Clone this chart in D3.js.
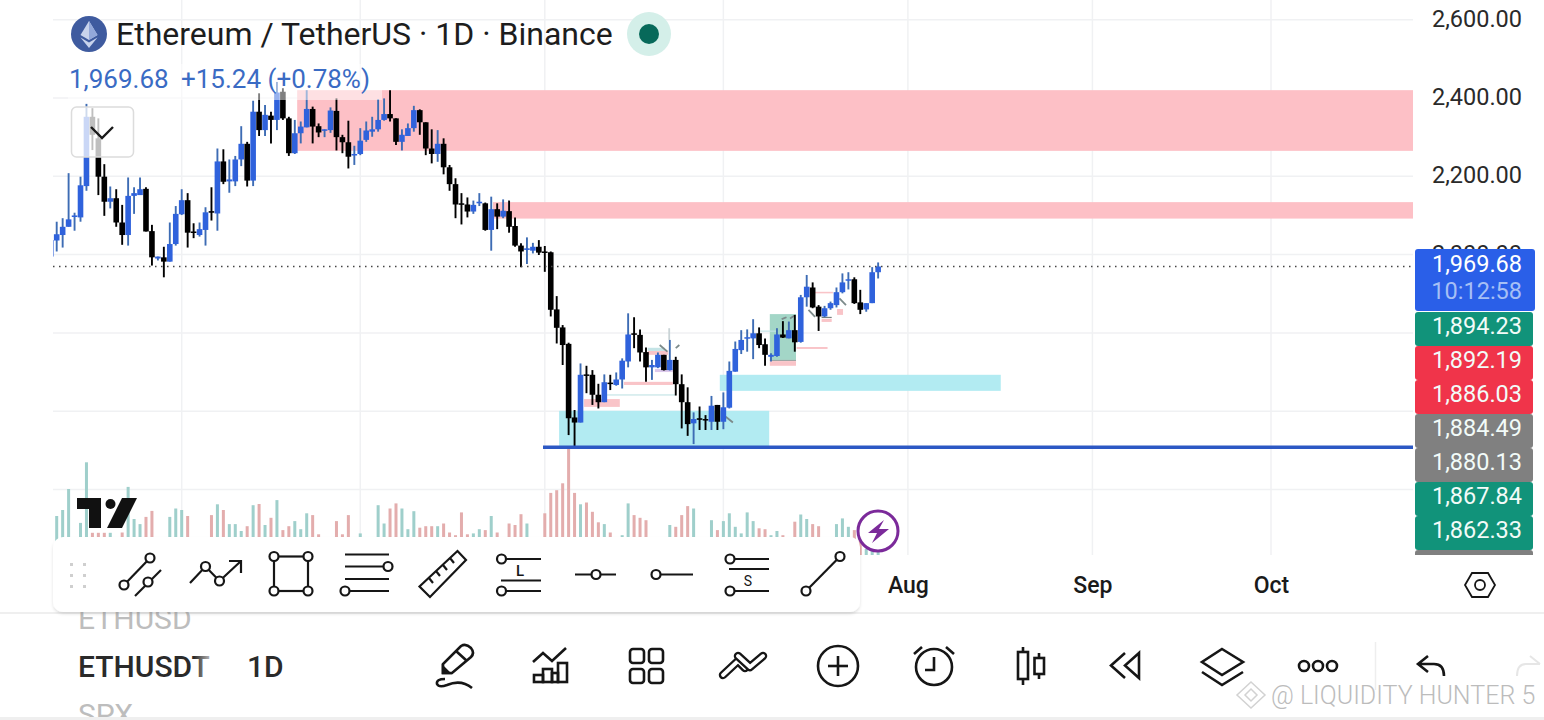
<!DOCTYPE html>
<html>
<head>
<meta charset="utf-8">
<title>ETHUSDT 1D</title>
<script src="https://cdn.jsdelivr.net/npm/d3@7"></script>
<style>
  html, body { margin: 0; padding: 0; background: #fff; overflow: hidden; }
  svg { display: block; font-family: Roboto, sans-serif; }
</style>
</head>
<body>
<svg id="chart" width="1544" height="720"></svg>
<script>
// first candle is 10 Mar, one candle a day
const firstDay = Date.UTC(2023, 2, 10);

const opens = [1995,2036,2050,2071,2096,2095,2175,2352,2297,2199,
  2135,2144,2082,2050,2150,2152,2168,2060,1990,1993,
  1982,2027,2103,2139,2059,2050,2063,2111,2105,2238,
  2187,2187,2243,2283,2189,2365,2318,2355,2344,2416,
  2348,2259,2310,2325,2372,2328,2317,2318,2367,2300,
  2287,2254,2257,2293,2314,2320,2344,2359,2348,2288,
  2303,2323,2369,2338,2271,2257,2283,2223,2180,2131,
  2128,2110,2131,2131,2063,2116,2097,2111,2073,2023,
  2012,2010,2020,2008,2006,1860,1814,1772,1584,1571,
  1694,1693,1642,1623,1673,1667,1681,1727,1799,1795,
  1751,1712,1712,1744,1705,1731,1669,1623,1569,1582,
  1580,1573,1616,1573,1609,1701,1756,1786,1786,1799,
  1771,1739,1741,1796,1786,1807,1777,1891,1916,1867,
  1842,1863,1871,1904,1935,1937,1878,1860,1876,1955];
const highs = [2037,2084,2093,2208,2107,2199,2385,2374,2348,2231,
  2174,2167,2127,2197,2172,2197,2172,2076,1995,2020,
  2082,2124,2167,2157,2080,2082,2121,2172,2271,2269,
  2243,2252,2328,2288,2393,2412,2382,2365,2441,2425,
  2352,2344,2340,2420,2378,2335,2320,2376,2399,2306,
  2342,2278,2323,2340,2352,2397,2399,2420,2348,2320,
  2335,2380,2371,2338,2320,2318,2297,2229,2195,2157,
  2146,2138,2157,2133,2148,2131,2141,2138,2095,2029,
  2044,2030,2037,2022,2008,1894,1820,1775,1603,1722,
  1716,1705,1670,1694,1693,1699,1735,1850,1840,1809,
  1763,1731,1750,1744,1782,1739,1694,1661,1597,1612,
  1590,1639,1616,1648,1727,1778,1807,1809,1835,1814,
  1786,1748,1812,1830,1829,1846,1897,1948,1929,1871,
  1869,1880,1916,1952,1955,1942,1910,1876,1968,1980];
const lows = [1995,2008,2018,2071,2061,2084,2163,2267,2152,2099,
  2118,2071,2025,2023,2104,2152,2059,1972,1985,1942,
  1982,2023,2101,2018,2042,2046,2023,2087,2061,2180,
  2158,2175,2226,2174,2175,2303,2303,2284,2318,2344,
  2252,2257,2284,2325,2284,2300,2300,2311,2266,2259,
  2220,2229,2254,2288,2301,2314,2342,2340,2280,2266,
  2303,2314,2306,2254,2233,2237,2205,2163,2093,2077,
  2095,2104,2124,2061,2010,2065,2093,2056,2020,1968,
  1976,2003,1999,1956,1842,1773,1718,1539,1509,1571,
  1646,1616,1607,1623,1654,1665,1658,1712,1761,1727,
  1675,1680,1710,1704,1704,1640,1556,1537,1516,1552,
  1552,1552,1552,1554,1607,1701,1746,1752,1733,1761,
  1716,1727,1739,1787,1786,1752,1775,1867,1863,1805,
  1840,1859,1865,1901,1911,1874,1848,1854,1876,1939];
const closes = [2037,2052,2071,2090,2100,2177,2352,2306,2199,2135,
  2144,2082,2050,2150,2157,2167,2059,1993,1995,1982,
  2027,2104,2139,2056,2056,2065,2108,2107,2238,2186,
  2192,2243,2283,2189,2365,2318,2357,2344,2414,2348,
  2259,2310,2327,2372,2327,2312,2320,2368,2300,2287,
  2250,2257,2291,2317,2320,2344,2359,2348,2288,2306,
  2323,2369,2338,2271,2257,2283,2223,2180,2128,2128,
  2110,2127,2135,2063,2116,2097,2112,2071,2023,2008,
  2016,2020,2005,2006,1859,1813,1769,1582,1571,1693,
  1691,1642,1623,1674,1670,1681,1729,1796,1795,1750,
  1712,1718,1744,1705,1731,1669,1623,1567,1580,1578,
  1578,1614,1573,1610,1703,1759,1782,1789,1799,1769,
  1744,1744,1796,1788,1807,1776,1891,1918,1865,1842,
  1863,1876,1904,1929,1937,1876,1859,1876,1955,1969.68];
const volumes = [40,130,150,220,40,107,309,74,74,74,
  74,40,75,227,120,103,127,147,40,40,
  127,155,150,130,40,40,40,133,169,150,
  103,103,80,96,166,170,100,124,183,83,
  96,113,86,139,133,69,40,40,113,69,
  133,40,72,40,40,166,105,155,172,155,
  86,146,91,96,96,96,105,75,66,142,
  69,72,86,83,130,75,40,105,100,136,
  105,40,40,139,207,216,239,400,207,169,
  175,144,109,103,75,40,66,172,133,124,
  116,40,40,40,100,94,133,163,155,40,
  40,116,83,113,139,94,72,142,113,89,
  86,66,80,66,40,111,135,120,103,96,
  40,40,103,122,94,83,60,20,20,15];

const gridPrices = [2600, 2400, 2200, 2000, 1800, 1600, 1400];
const labelPrices = [2600, 2400, 2200, 2000];
const monthTicks = [Date.UTC(2023,3,1), Date.UTC(2023,4,1), Date.UTC(2023,5,1), Date.UTC(2023,6,1),
  Date.UTC(2023,7,1), Date.UTC(2023,8,1), Date.UTC(2023,9,1)];

// zones: day from, day to, price top, price bottom
const supplyZones = [[41.4,229,2420,2265],[74.3,229,2134,2092]];
const demandZones = [[85.4,120.7,1601,1511],[112.4,159.6,1693,1652]];
const smallSupply = [[89.6,95.6,1631,1611],[96.3,104.5,1675,1667],[100.3,103.7,1754,1744],
  [120.8,125.2,1728,1716],[125.3,130.5,1764,1759],[129.5,131.2,1836,1828],
  [132.1,133.1,1861,1846],[128.4,131.4,1905,1901]];
const smallTeal = [[93.4,104.9,1643,1640],[100.3,103.2,1762,1754],[119.2,122,1806,1803]];
const smallLavender = [[101.5,104.5,1708,1700]];
const greenBox = [[120.8,125.2,1848,1731]];
const greyBars = [[120.8,125.2,1731,1729],[129.5,131.2,1841,1838]];
const strokes = [[102.3,1769,103.6,1752],[105,1761,105.6,1769],[113.4,1586,114.6,1571],
  [122.8,1835,123.6,1840],[124.2,1837,124.9,1844],[127.3,1859,128.4,1841],[132.5,1888,133.6,1871]];
const paleStrokes = [[103.9,1812,103.9,1782]];
const levelLine = [82.7, 229, 1508];
const lastPrice = 1969.68;

const tagValues = ["1,894.23","1,892.19","1,886.03","1,884.49","1,880.13","1,867.84","1,862.33","1,861.88"];
const tagKinds = ["green","red","red","grey","grey","green","green","grey"];

const tagColor = { green: "#11937a", red: "#f0344a", grey: "#808080" };
const upColor = "#2f62dc", upWick = "#3d6cb4", downColor = "#000";
const inkColor = "#161616";

const svg = d3.select("#chart");
const left = 53, right = 1413, bottom = 555;

const x = d3.scaleUtc().domain([Date.UTC(2023,3,1), Date.UTC(2023,9,1)]).range([181.7, 1271]);
const dayX = (d) => x(firstDay + d * 864e5);
const y = d3.scaleLinear().domain([2600, 1400]).range([19.7, 489.5]);
const volY = d3.scaleLinear().domain([0, 1000]).range([bottom, bottom - 300]);

const defs = svg.append("defs");
defs.append("clipPath").attr("id", "pane")
  .append("rect").attr("x", left).attr("y", 0).attr("width", right - left).attr("height", bottom);
defs.append("clipPath").attr("id", "tagsClip")
  .append("rect").attr("x", 1400).attr("y", 0).attr("width", 144).attr("height", bottom);
const fade = defs.append("linearGradient").attr("id", "fadeOut");
fade.append("stop").attr("offset", "0").attr("stop-color", "#fff").attr("stop-opacity", 0);
fade.append("stop").attr("offset", "1").attr("stop-color", "#fff").attr("stop-opacity", 0.9);
defs.append("filter").attr("id", "panelShadow").attr("x", "-2%").attr("y", "-10%").attr("width", "104%").attr("height", "130%")
  .append("feDropShadow").attr("dx", 0).attr("dy", 2).attr("stdDeviation", 1.5)
  .attr("flood-color", "#000").attr("flood-opacity", 0.12);

const pane = svg.append("g").attr("clip-path", "url(#pane)");

// grid
pane.append("g").selectAll("line").data(gridPrices).join("line")
  .attr("x1", left).attr("x2", right).attr("y1", (d) => y(d)).attr("y2", (d) => y(d))
  .attr("stroke", "#f0f1f3").attr("stroke-width", 1.5);
pane.append("g").selectAll("line").data(monthTicks).join("line")
  .attr("x1", (d) => x(d)).attr("x2", (d) => x(d)).attr("y1", 0).attr("y2", bottom)
  .attr("stroke", "#f0f1f3").attr("stroke-width", 1.5);

const candles = closes.map((c, i) => ({ i, o: opens[i], h: highs[i], l: lows[i], c, v: volumes[i], up: c >= opens[i] }));

// volume
pane.append("g").selectAll("rect").data(candles).join("rect")
  .attr("x", (d) => dayX(d.i) - 1.5).attr("width", 3)
  .attr("y", (d) => volY(d.v)).attr("height", (d) => bottom - volY(d.v))
  .attr("fill", (d) => (d.up ? "#9fcfcb" : "#e3adad"));

function drawZones(rows, fill) {
  pane.append("g").selectAll("rect").data(rows).join("rect")
    .attr("x", (d) => dayX(d[0])).attr("width", (d) => dayX(d[1]) - dayX(d[0]))
    .attr("y", (d) => y(d[2])).attr("height", (d) => y(d[3]) - y(d[2]))
    .attr("fill", fill);
}
drawZones(supplyZones, "#fdc0c6");
drawZones(demandZones, "#b2ebf2");
drawZones(greenBox, "#a3d6c7");
drawZones(smallSupply, "#f9c4c8");
drawZones(smallTeal, "#c4e4e6");
drawZones(smallLavender, "#dcc9ec");
drawZones(greyBars, "#76807e");

function drawStrokes(rows, color) {
  pane.append("g").selectAll("line").data(rows).join("line")
    .attr("x1", (d) => dayX(d[0])).attr("y1", (d) => y(d[1]))
    .attr("x2", (d) => dayX(d[2])).attr("y2", (d) => y(d[3]))
    .attr("stroke", color).attr("stroke-width", 1.8);
}
drawStrokes(strokes, "#7c8a8a");
drawStrokes(paleStrokes, "#c9d3d6");

// candles
const candle = pane.append("g").selectAll("g").data(candles).join("g");
candle.append("line")
  .attr("x1", (d) => dayX(d.i)).attr("x2", (d) => dayX(d.i))
  .attr("y1", (d) => y(d.h)).attr("y2", (d) => y(d.l))
  .attr("stroke", (d) => (d.up ? upWick : downColor)).attr("stroke-width", 1.9);
candle.append("rect")
  .attr("x", (d) => dayX(d.i) - 2.8).attr("width", 5.6)
  .attr("y", (d) => y(Math.max(d.o, d.c)))
  .attr("height", (d) => Math.max(1.5, Math.abs(y(d.o) - y(d.c))))
  .attr("fill", (d) => (d.up ? upColor : downColor));

// level line and last price
pane.append("line")
  .attr("x1", dayX(levelLine[0])).attr("x2", dayX(levelLine[1]))
  .attr("y1", y(levelLine[2])).attr("y2", y(levelLine[2]))
  .attr("stroke", "#2c58c4").attr("stroke-width", 3.5);
pane.append("line")
  .attr("x1", left).attr("x2", right).attr("y1", y(lastPrice)).attr("y2", y(lastPrice))
  .attr("stroke", "#444").attr("stroke-width", 1.5).attr("stroke-dasharray", "1.5 4.5");

// legend veil and button
svg.append("rect").attr("x", 68).attr("y", 64).attr("width", 314).attr("height", 36)
  .attr("fill", "#fff").attr("opacity", 0.5);
svg.append("rect").attr("x", 71.5).attr("y", 107).attr("width", 62).attr("height", 50).attr("rx", 5)
  .attr("fill", "#fff").attr("fill-opacity", 0.75).attr("stroke", "#dcdcdc").attr("stroke-width", 1.5);
svg.append("path").attr("d", "M91 127 L102 138 L113 127").attr("fill", "none")
  .attr("stroke", "#1a1a1a").attr("stroke-width", 2.4);

// header
svg.append("circle").attr("cx", 89).attr("cy", 34).attr("r", 18).attr("fill", "#3f5b9f");
svg.append("path").attr("d", "M89 21 L97.5 35 L89 40 L80.5 35 Z").attr("fill", "#c8d3ec");
svg.append("path").attr("d", "M89 21 L97.5 35 L89 40 Z").attr("fill", "#93a8da");
svg.append("path").attr("d", "M80.5 37.5 L89 42.5 L97.5 37.5 L89 48 Z").attr("fill", "#c8d3ec");
svg.append("text").attr("x", 116).attr("y", 45).attr("font-size", 32).attr("fill", "#1d1d1d")
  .text("Ethereum / TetherUS · 1D · Binance");
svg.append("circle").attr("cx", 649).attr("cy", 34).attr("r", 22).attr("fill", "#d4efe9");
svg.append("circle").attr("cx", 649).attr("cy", 34).attr("r", 10).attr("fill", "#07695a");
svg.append("text").attr("x", 69).attr("y", 88).attr("font-size", 26).attr("fill", "#3a6bc4").text("1,969.68");
svg.append("text").attr("x", 181).attr("y", 88).attr("font-size", 26).attr("fill", "#3a6bc4").text("+15.24 (+0.78%)");

// TradingView mark
svg.append("path").attr("fill", "#111")
  .attr("d", "M77 498 H101 V528 H89 V509 H77 Z");
svg.append("circle").attr("cx", 110.5).attr("cy", 504).attr("r", 5).attr("fill", "#111");
svg.append("path").attr("fill", "#111").attr("d", "M122 498 H137 L122 528 H107 Z");

// bolt
svg.append("circle").attr("cx", 878).attr("cy", 531).attr("r", 20).attr("fill", "#fff").attr("fill-opacity", 0.9)
  .attr("stroke", "#7b2a9a").attr("stroke-width", 3);
svg.append("path").attr("fill", "#7b2a9a")
  .attr("d", "M884 520 L868 533 L877 533 L872 543 L889 529 L879 529 Z");

// price axis
const axisRight = d3.axisRight(y).tickValues(labelPrices).tickFormat(d3.format(",.2f")).tickSize(0).tickPadding(0);
const priceAxis = svg.append("g").attr("transform", "translate(1522,-1)").call(axisRight);
priceAxis.select(".domain").remove();
priceAxis.selectAll("text").attr("text-anchor", "end").attr("font-family", "Roboto, sans-serif")
  .attr("font-size", 23.5).attr("fill", "#2a2a2a");

// time strip
svg.append("rect").attr("x", 0).attr("y", bottom).attr("width", 1544).attr("height", 58).attr("fill", "#fff");
svg.append("rect").attr("x", 0).attr("y", 612).attr("width", 1544).attr("height", 2).attr("fill", "#efefef");
const axisBottom = d3.axisBottom(x).tickValues(monthTicks).tickFormat(d3.utcFormat("%b")).tickSize(0).tickPadding(0);
const timeAxis = svg.append("g").attr("transform", "translate(0,577)").call(axisBottom);
timeAxis.select(".domain").remove();
timeAxis.selectAll("text").attr("font-family", "Roboto, sans-serif").attr("font-size", 23)
  .attr("font-weight", 500).attr("fill", "#1a1a1a");
svg.append("path").attr("d", "M1472 573 H1488 L1495 585 L1488 597 H1472 L1465 585 Z")
  .attr("fill", "none").attr("stroke", inkColor).attr("stroke-width", 1.8);
svg.append("circle").attr("cx", 1480).attr("cy", 585).attr("r", 5).attr("fill", "none")
  .attr("stroke", inkColor).attr("stroke-width", 1.8);

// price tags
const tags = svg.append("g");
tags.append("rect").attr("x", 1415).attr("y", 249).attr("width", 120).attr("height", 62).attr("rx", 3).attr("fill", "#2a5fe8");
tags.append("text").attr("x", 1522).attr("y", 272).attr("text-anchor", "end").attr("font-size", 23.5).attr("fill", "#fff")
  .text(d3.format(",.2f")(lastPrice));
tags.append("text").attr("x", 1522).attr("y", 299).attr("text-anchor", "end").attr("font-size", 23.5).attr("fill", "#a6bff5")
  .text("10:12:58");
const tagRows = tags.append("g").attr("clip-path", "url(#tagsClip)").selectAll("g")
  .data(tagValues).join("g")
  .attr("transform", (d, i) => `translate(1415,${312 + i * 34})`);
tagRows.append("rect").attr("width", 118).attr("height", 34).attr("rx", 3)
  .attr("fill", (d, i) => tagColor[tagKinds[i]]);
tagRows.append("text").attr("x", 107).attr("y", 22).attr("text-anchor", "end").attr("font-size", 23.5)
  .attr("fill", "#f2fbf8").text((d) => d);

// bottom strip
const symbolRows = [["ETHUSD", 78, 629, "#bdbdbd", 400], ["ETHUSDT", 78, 677, "#2a2a2a", 500], ["1D", 247, 677, "#2a2a2a", 500], ["SPX", 78, 725, "#bdbdbd", 400]];
svg.append("g").selectAll("text").data(symbolRows).join("text")
  .attr("x", (d) => d[1]).attr("y", (d) => d[2]).attr("fill", (d) => d[3])
  .attr("font-weight", (d) => d[4]).attr("font-size", 30).text((d) => d[0]);
svg.append("rect").attr("x", 194).attr("y", 650).attr("width", 22).attr("height", 32).attr("fill", "url(#fadeOut)");

// drawing toolbar
svg.append("rect").attr("x", 53).attr("y", 537).attr("width", 807).attr("height", 75).attr("rx", 10)
  .attr("fill", "#fff").attr("filter", "url(#panelShadow)");

let ink = svg.append("g").attr("fill", "none").attr("stroke", inkColor).attr("stroke-width", 2.2);
const line = (x1, y1, x2, y2) => ink.append("line").attr("x1", x1).attr("y1", y1).attr("x2", x2).attr("y2", y2);
const knob = (cx, cy) => ink.append("circle").attr("cx", cx).attr("cy", cy).attr("r", 4.5).attr("fill", "#fff");
const path = (d) => ink.append("path").attr("d", d);

d3.cross([70, 83], [563, 574, 585]).forEach(([a, b]) => {
  svg.append("rect").attr("x", a).attr("y", b).attr("width", 3).attr("height", 3).attr("fill", "#cfcfcf");
});

line(124, 585, 150, 558); knob(150, 558); knob(124, 585);
line(135, 596, 161, 570); knob(148, 582);
path("M190 583 L205.5 566.5 L219.5 581 L241 561 M229 561 H241 V573"); knob(205.5, 566.5); knob(219.5, 581);
ink.append("rect").attr("x", 274).attr("y", 556.5).attr("width", 34).attr("height", 34.5);
knob(274, 556.5); knob(308, 556.5); knob(274, 591); knob(308, 591);
line(345, 554.5, 389, 554.5); line(345, 566.5, 384, 566.5); line(345, 579, 389, 579); line(349, 591, 389, 591);
knob(388, 566.5); knob(345, 591);
path("M430 597 L419.5 586.5 L457.5 551 L466 560 Z M429 578 l4 5 M436 571 l4 5 M443 565 l4 5 M450 558 l4 5");
line(505, 559, 541, 559); line(501, 580.5, 541, 580.5); line(505, 591, 541, 591);
knob(501.5, 559); knob(501.5, 591);
line(575, 574.5, 616, 574.5); knob(596, 574.5);
line(656, 574.5, 693, 574.5); knob(656, 574.5);
line(734, 559, 769, 559); line(729, 569, 769, 569); line(734, 591, 769, 591);
knob(730, 559); knob(730, 591);
line(806, 591, 840, 556.5); knob(806, 591); knob(840, 556.5);
svg.append("text").attr("x", 520).attr("y", 576).attr("text-anchor", "middle").attr("font-size", 15).attr("font-weight", 500).attr("fill", inkColor).text("L");
svg.append("text").attr("x", 748).attr("y", 586).attr("text-anchor", "middle").attr("font-size", 14).attr("fill", inkColor).text("S");

// main icons
ink = svg.append("g").attr("fill", "none").attr("stroke", inkColor).attr("stroke-width", 2.6);
path("M443 673 V664 L461 646 Q466 643 471 648 Q475 653 471 657 L452 673 Z M456 651 L467 661");
ink.append("path").attr("d", "M443 673 V667 L449 673 Z").attr("fill", inkColor);
path("M445 679 Q436 679 437 684 Q439 688 447 685 Q461 679 472 688");
path("M533 662 L543 653 L552 661 L566 648");
ink.append("rect").attr("x", 534).attr("y", 675).attr("width", 9).attr("height", 7);
ink.append("rect").attr("x", 543).attr("y", 669).attr("width", 9).attr("height", 13);
ink.append("rect").attr("x", 552).attr("y", 673).attr("width", 6).attr("height", 9);
ink.append("rect").attr("x", 558).attr("y", 663).attr("width", 9).attr("height", 19);
[[630, 649], [649, 649], [630, 669], [649, 669]].forEach(([a, b]) => {
  ink.append("rect").attr("x", a).attr("y", b).attr("width", 14).attr("height", 14).attr("rx", 3);
});
// double chevrons: dark stroke with a white core so they read as outlines
[["M723 675 L738 661 L745 668", "M738 656 L750 667 L763 656"]].forEach(([a, b]) => {
  [a, b].forEach((d) => {
    svg.append("path").attr("d", d).attr("fill", "none").attr("stroke", inkColor).attr("stroke-width", 8.5).attr("stroke-linecap", "round").attr("stroke-linejoin", "round");
    svg.append("path").attr("d", d).attr("fill", "none").attr("stroke", "#fff").attr("stroke-width", 3.8).attr("stroke-linecap", "round").attr("stroke-linejoin", "round");
  });
});
ink.append("circle").attr("cx", 838).attr("cy", 666).attr("r", 20);
line(828, 666, 848, 666); line(838, 656, 838, 676);
ink.append("circle").attr("cx", 934).attr("cy", 667).attr("r", 18);
path("M934 657 V670 H925 M914 654 L922 647 M954 654 L946 647");
ink.append("rect").attr("x", 1018).attr("y", 652).attr("width", 10).attr("height", 27);
line(1023, 647, 1023, 652); line(1023, 679, 1023, 685);
ink.append("rect").attr("x", 1034.5).attr("y", 658).attr("width", 9.5).attr("height", 16);
line(1039, 653, 1039, 658); line(1039, 674, 1039, 679);
path("M1125 653 L1111 665.5 L1125 678 M1139 653 L1125 665.5 L1139 678 Z");
path("M1222 649 L1243 662 L1222 675 L1202 662 Z M1202 672 L1222 685 L1243 672");
ink.append("circle").attr("cx", 1304).attr("cy", 666).attr("r", 5);
ink.append("circle").attr("cx", 1318).attr("cy", 666).attr("r", 5);
ink.append("circle").attr("cx", 1332).attr("cy", 666).attr("r", 5);
svg.append("line").attr("x1", 1375.5).attr("x2", 1375.5).attr("y1", 642).attr("y2", 690).attr("stroke", "#eeeeee").attr("stroke-width", 1.5);
path("M1428 656 L1418 664 L1428 672 M1418 664 H1434 Q1444 664 1444 676");
svg.append("path").attr("d", "M1530 656 L1540 664 M1540 664 H1526 Q1517 664 1517 676").attr("fill", "none").attr("stroke", "#e6e6e6").attr("stroke-width", 2);

// watermark and bottom edge
const mark = svg.append("g").attr("fill", "none").attr("stroke", "#d2d2d2").attr("stroke-width", 1.5);
mark.append("path").attr("d", "M1251 682 L1265 695 L1251 708 L1237 695 Z M1251 689 L1257 695 L1251 701 L1245 695 Z");
svg.append("text").attr("x", 1271).attr("y", 704).attr("font-size", 25).attr("font-weight", 300)
  .attr("fill", "#bcbcbc").text("@ LIQUIDITY HUNTER 5");
svg.append("rect").attr("x", 0).attr("y", 717).attr("width", 1544).attr("height", 3).attr("fill", "#efefef");
</script>
</body>
</html>
